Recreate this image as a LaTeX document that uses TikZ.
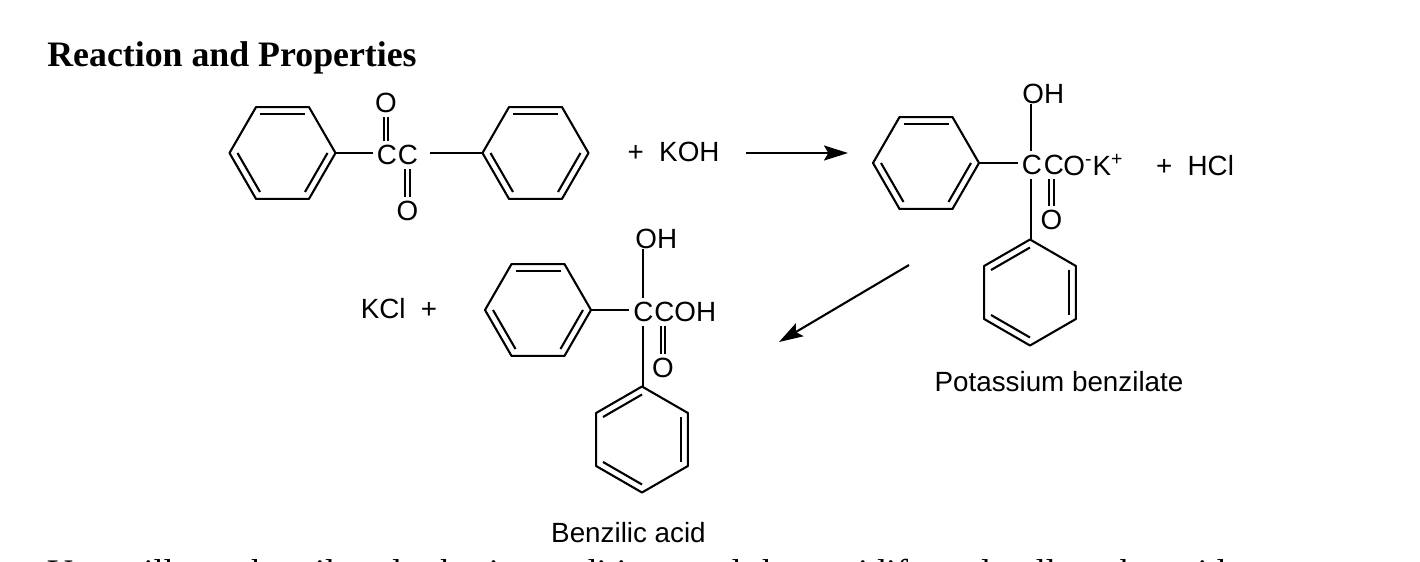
\documentclass[tikz,border=0pt]{standalone}
\usepackage{fontspec}
\setmainfont{Liberation Sans}
\newfontfamily\serifface{Liberation Serif}
\usetikzlibrary{arrows.meta}
\tikzset{
	bond/.style={line width=1.05pt},
	dbl/.style={bond, double, double distance=1.25pt},
	atom/.style={inner sep=2pt, font=\fontsize{13.9}{16}\selectfont},
	txt/.style={inner sep=0pt, font=\fontsize{13.9}{16}\selectfont},
	benzene/.pic={
		\draw[bond, line join=round] (0:53)--(60:53)--(120:53)--(180:53)--(240:53)--(300:53)--cycle;
		\foreach \a in {60,180,300}
			\draw[bond] (\a:45)--(\a+60:45);
		\foreach \a in {0,60,...,300}
			\coordinate (-v\a) at (\a:53);
	}
}
\begin{document}
\begin{tikzpicture}[x=0.5pt, y=0.5pt, >={Stealth[length=12pt, width=7.5pt, inset=2.2pt]}]
	\clip (0,0) rectangle (1420,-562);
	\node[inner sep=0pt, anchor=base west, font=\serifface\bfseries\fontsize{17.9}{20}\selectfont] (title) at (47,-66) {Reaction and Properties};
	% benzil
	\pic (rA) at (282.5,-153) {benzene};
	\pic (rB) at (535.5,-153) {benzene};
	\node[atom] (cA) at (387,-155) {C};
	\node[atom] (cB) at (408,-155) {C};
	\node[atom] (oA) at (386,-103) {O};
	\node[atom] (oB) at (407.5,-211) {O};
	\draw[bond] (rA-v0) -- (rA-v0 -| cA.west);
	\draw[bond, shorten >=4pt] (rB-v180) -- (rB-v180 -| cB.east);
	\draw[dbl] (oA) -- (oA |- cA.north);
	\draw[dbl] (oB) -- (oB |- cB.south);
	\node[txt] (koh) at (673.5,-152) {+\ \ KOH};
	% first arrow
	\coordinate (a1s) at (746,-153);
	\coordinate (a1e) at (848,-153);
	\draw[bond, ->] (a1s) -- (a1e);
	% potassium benzilate
	\pic (rC) at (926,-163) {benzene};
	\pic[rotate=30] (rD) at (1030,-292.5) {benzene};
	\node[atom] (cC) at (1032,-165) {C};
	\node[atom] (cD) at (1054,-165) {C};
	\node[txt, anchor=west] (cok) at (1063,-165) {O\textsuperscript{-}K\textsuperscript{+}};
	\node[atom, anchor=west, inner sep=0pt] (ohA) at (1022,-94) {OH};
	\node[atom] (oC) at (1051.5,-220) {O};
	\coordinate (bC) at (1031,-165);
	\draw[bond] (rC-v0) -- (rC-v0 -| cC.west);
	\draw[bond] (bC |- ohA.south) -- (bC |- cC.north);
	\draw[bond] (bC |- cC.south) -- (bC |- rD-v60);
	\draw[dbl] (oC) -- (oC |- cD.south);
	\node[txt] (hcl) at (1195,-166) {+\ \ HCl};
	\node[txt] (potassium) at (1059,-382) {Potassium benzilate};
	% second arrow
	\coordinate (a2s) at (909,-265);
	\coordinate (a2e) at (779,-342);
	\draw[bond, ->] (a2s) -- (a2e);
	% benzilic acid
	\node[txt] (kcl) at (399,-309) {KCl\ \ +};
	\pic (rE) at (538,-310) {benzene};
	\pic[rotate=30] (rF) at (642,-439.5) {benzene};
	\node[atom] (cE) at (643.5,-312) {C};
	\node[atom] (cF) at (664.5,-312) {C};
	\node[txt, anchor=west] (coh) at (674,-312) {OH};
	\node[atom, anchor=west, inner sep=0pt] (ohB) at (635,-239) {OH};
	\node[atom] (oD) at (663,-368) {O};
	\coordinate (bE) at (643,-312);
	\draw[bond] (rE-v0) -- (rE-v0 -| cE.west);
	\draw[bond] (bE |- ohB.south) -- (bE |- cE.north);
	\draw[bond] (bE |- cE.south) -- (bE |- rF-v60);
	\draw[dbl] (oD) -- (oD |- cF.south);
	\node[txt] (acid) at (628.5,-533) {Benzilic acid};
	% cut off by the page
	\node[inner sep=0pt, anchor=base west, font=\serifface\fontsize{18}{20}\selectfont] (body) at (47,-584) {\hbox to 589pt{You will get the oil under basic conditions and then acidify and collect the acid}};
\end{tikzpicture}
\end{document}
